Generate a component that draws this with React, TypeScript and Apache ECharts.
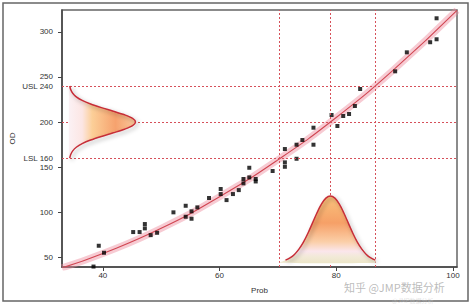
import React, { useEffect, useRef } from "react";
import * as echarts from "echarts";

const probX = [38.4, 39.3, 40.2, 45.2, 46.3, 47.2, 47.2, 48.2, 49.3, 52.1, 54.2, 54.2, 55.2, 55.2, 56.2, 58.2, 60.2, 60.2, 61.2, 62.3, 63.3, 64.1, 64.1, 65.1, 65.1, 66.2, 66.2, 69.1, 71.2, 71.2, 71.2, 73.2, 73.2, 74.2, 76.1, 76.1, 79.2, 80.2, 81.2, 82.2, 83.2, 84.1, 90.1, 92.1, 96.1, 97.2, 97.2];
const odY = [39.5, 62.6, 54.8, 77.8, 77.8, 86.7, 81.9, 74.4, 77, 99.7, 107, 94.8, 100.8, 92.6, 105.2, 115.6, 125.6, 120, 113.3, 120, 124.4, 136.7, 131.9, 149.2, 138.5, 136.7, 134, 145.6, 170, 155.2, 150.3, 174.8, 159.2, 180, 193.7, 174.8, 207.8, 195.6, 206.7, 208.9, 217.8, 236.7, 256.3, 277.4, 288.6, 291.9, 315.2];

const fitX = [33, 40, 50, 60, 70, 80, 90, 100.7];
const fitY = [38, 54, 82, 117, 158, 205, 259, 324];

const xTicks = [40, 60, 80, 100];
const yTicks = [50, 100, 150, 200, 250, 300];
const LSL = 160;
const USL = 240;
const TARGET = 200;
const probLSL = 70.3;
const probMean = 79;
const probUSL = 86.7;

// bell half-profiles (center -> edge), relative heights
const leftBellHalf = [1, 0.956, 0.835, 0.667, 0.487, 0.325, 0.198, 0.11, 0.056, 0.026, 0.011];
const bottomBellHalf = [1, 0.968, 0.878, 0.746, 0.594, 0.443, 0.31, 0.204, 0.125, 0.072, 0.039];
const leftBellBase = 34.2;
const leftBellPeak = 45.6;
const bottomBellBase = 43.7;
const bottomBellPeak = 117.8;

const X_MIN = 33;
const X_MAX = 100.7;
const Y_MIN = 39;
const Y_MAX = 324.4;

function fullProfile(half: number[]) {
  const n = half.length - 1;
  const out: { u: number; h: number }[] = [];
  for (let i = n; i >= 1; i--) out.push({ u: -i / n, h: half[i] });
  for (let i = 0; i <= n; i++) out.push({ u: i / n, h: half[i] });
  return out;
}

const App: React.FC = () => {
  const ref = useRef<HTMLDivElement>(null);
  useEffect(() => {
    document.body.style.margin = "0";
    if (!ref.current) return;
    const chart = echarts.init(ref.current, null, { renderer: "svg" });
    const font = "Liberation Sans";
    const redDash = { color: "#d6505a", width: 1, type: [2, 2] as any };

    const leftProf = fullProfile(leftBellHalf);
    const bottomProf = fullProfile(bottomBellHalf);

    const bellStroke = "#c62e38";
    const shadow = {
      shadowBlur: 4,
      shadowOffsetX: 2,
      shadowOffsetY: 2,
      shadowColor: "rgba(0,0,0,0.35)",
    };

    const option: any = {
      animation: false,
      grid: {
        left: 60,
        top: 10,
        right: 17,
        bottom: 39,
        show: true,
        borderColor: "#666",
        borderWidth: 1.5,
        backgroundColor: "#fff",
      },
      xAxis: {
        type: "value",
        min: X_MIN,
        max: X_MAX,
        name: "Prob",
        nameLocation: "middle",
        nameGap: 19,
        nameTextStyle: { fontFamily: font, fontSize: 8, color: "#333" },
        axisLine: { show: true, lineStyle: { color: "#444", width: 1.5 } },
        axisTick: { show: true, length: 4, customValues: xTicks, lineStyle: { color: "#444" } },
        axisLabel: { customValues: xTicks, fontFamily: font, fontSize: 8, color: "#333", margin: 4 },
        splitLine: { show: false },
      },
      yAxis: [
        {
          type: "value",
          min: Y_MIN,
          max: Y_MAX,
          name: "OD",
          nameLocation: "middle",
          nameGap: 46,
          nameTextStyle: { fontFamily: font, fontSize: 8, color: "#333" },
          axisLine: { show: true, lineStyle: { color: "#444", width: 1.5 } },
          axisTick: { show: true, length: 4, customValues: yTicks, lineStyle: { color: "#444" } },
          axisLabel: { customValues: yTicks, fontFamily: font, fontSize: 8, color: "#333", margin: 9 },
          splitLine: { show: false },
        },
        {
          type: "value",
          min: Y_MIN,
          max: Y_MAX,
          position: "left",
          axisLine: { show: false },
          axisTick: { show: false },
          axisLabel: {
            customValues: [LSL, USL],
            fontFamily: font,
            fontSize: 8,
            color: "#333",
            margin: 9,
            formatter: (v: number) => (v === USL ? "USL " + USL : v === LSL ? "LSL " + LSL : ""),
          },
          splitLine: { show: false },
        },
      ],
      series: [
        {
          type: "line",
          data: [],
          silent: true,
          z: 1,
          markLine: {
            silent: true,
            symbol: "none",
            label: { show: false },
            lineStyle: redDash,
            data: [
              { yAxis: USL },
              { yAxis: TARGET },
              { yAxis: LSL },
              { xAxis: probLSL },
              { xAxis: probMean },
              { xAxis: probUSL },
            ],
          },
        },
        {
          type: "line",
          data: fitX.map((x, i) => [x, fitY[i]]),
          smooth: true,
          symbol: "none",
          z: 2,
          lineStyle: { color: "rgba(238,140,158,0.45)", width: 7 },
        },
        {
          type: "line",
          data: fitX.map((x, i) => [x, fitY[i]]),
          smooth: true,
          symbol: "none",
          z: 3,
          lineStyle: { color: "#d04652", width: 1.1 },
        },
        {
          type: "scatter",
          data: probX.map((x, i) => [x, odY[i]]),
          symbol: "rect",
          symbolSize: 4,
          itemStyle: { color: "#000" },
          z: 4,
        },
        {
          type: "custom",
          coordinateSystem: "cartesian2d",
          clip: false,
          z: 5,
          data: [[0, 0]],
          renderItem: (params: any, api: any) => {
            const pts = leftProf.map((p) =>
              api.coord([leftBellBase + p.h * (leftBellPeak - leftBellBase), TARGET + p.u * (USL - TARGET)])
            );
            const b0 = api.coord([leftBellBase, USL]);
            const b1 = api.coord([leftBellBase, LSL]);
            const poly = [b1, ...pts, b0];
            return {
              type: "group",
              children: [
                {
                  type: "polygon",
                  shape: { points: poly, smooth: 0.3 },
                  style: {
                    fill: new echarts.graphic.LinearGradient(0, 0, 1, 0, [
                      { offset: 0, color: "#fbf1f4" },
                      { offset: 0.2, color: "#fce6e4" },
                      { offset: 0.35, color: "#fccf98" },
                      { offset: 0.7, color: "#f6a26e" },
                      { offset: 1, color: "#f9c89c" },
                    ]),
                  },
                },
                {
                  type: "polyline",
                  shape: { points: pts, smooth: 0.3 },
                  style: { stroke: bellStroke, lineWidth: 1.5, fill: "none", ...shadow },
                },
              ],
            };
          },
        },
        {
          type: "custom",
          coordinateSystem: "cartesian2d",
          clip: false,
          z: 5,
          data: [[0, 0]],
          renderItem: (params: any, api: any) => {
            const pts = bottomProf.map((p) =>
              api.coord([probMean + p.u * (probUSL - probMean), bottomBellBase + p.h * (bottomBellPeak - bottomBellBase)])
            );
            const b0 = api.coord([probLSL, bottomBellBase]);
            const b1 = api.coord([probUSL, bottomBellBase]);
            const poly = [b0, ...pts, b1];
            return {
              type: "group",
              children: [
                {
                  type: "polygon",
                  shape: { points: poly, smooth: 0.3 },
                  style: {
                    fill: new echarts.graphic.LinearGradient(0, 0, 0, 1, [
                      { offset: 0, color: "#f9c27c" },
                      { offset: 0.4, color: "#f6a067" },
                      { offset: 0.68, color: "#fbcfa8" },
                      { offset: 0.82, color: "#fbe6ec" },
                      { offset: 0.9, color: "#f2ead8" },
                      { offset: 1, color: "#ece6c8" },
                    ]),
                  },
                },
                {
                  type: "polyline",
                  shape: { points: pts, smooth: 0.3 },
                  style: { stroke: bellStroke, lineWidth: 1.5, fill: "none", ...shadow },
                },
              ],
            };
          },
        },
      ],
      graphic: [
        {
          type: "rect",
          shape: { x: 3, y: 3, width: 465, height: 298 },
          style: { fill: "none", stroke: "#666", lineWidth: 1.5 },
          silent: true,
          z: 100,
        },
        {
          type: "text",
          x: 344,
          y: 281,
          style: {
            text: "知乎 @JMP数据分析",
            fontFamily: "Noto Sans CJK SC",
            fontSize: 11,
            fill: "rgba(175,175,175,0.85)",
            stroke: "rgba(255,255,255,0.8)",
            lineWidth: 1,
          },
          z: 101,
        },
        {
          type: "text",
          x: 392,
          y: 297,
          style: {
            text: "@JMP数据分析",
            fontFamily: "Noto Sans CJK SC",
            fontSize: 6,
            fill: "rgba(200,200,200,0.5)",
          },
          z: 101,
        },
      ],
    };
    chart.setOption(option);
    return () => chart.dispose();
  }, []);
  return <div ref={ref} style={{ position: "fixed", left: 0, top: 0, width: 474, height: 306, background: "#fff" }} />;
};

export default App;
